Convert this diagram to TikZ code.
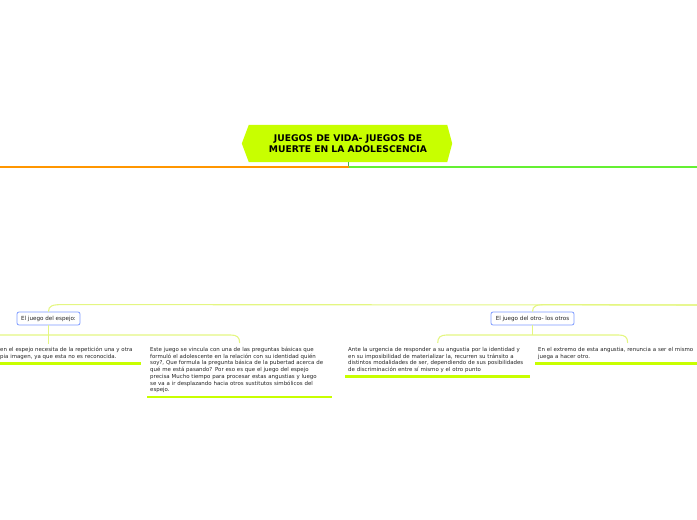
\documentclass[tikz,border=0pt]{standalone}
\usepackage{fontspec}
\setmainfont{DejaVu Sans}
\usetikzlibrary{backgrounds}
\definecolor{titlelime}{RGB}{200,255,0}
\definecolor{branchcol}{RGB}{228,246,130}
\definecolor{boxblue}{RGB}{125,155,255}
\definecolor{txtgray}{RGB}{35,35,35}
\definecolor{hubleft}{RGB}{255,150,0}
\definecolor{hubright}{RGB}{100,240,50}

\begin{document}
\begin{tikzpicture}[x=1pt,y=-1pt,
  titlebox/.style={minimum width=198pt,minimum height=37pt,inner sep=0pt,align=center,
    font=\fontsize{9.2}{11.5}\selectfont\bfseries},
  groupbox/.style={draw=boxblue,line width=0.8pt,rounded corners=2pt,fill=white,
    minimum height=13pt,inner sep=0pt,text=txtgray,font=\fontsize{5.6}{6.5}\selectfont},
  leaf/.style={anchor=north west,text width=179pt,inner xsep=3pt,inner ysep=3pt,align=left,
    text=txtgray,font=\fontsize{5.45}{6.7}\selectfont},
  branch/.style={draw=branchcol,line width=1.1pt},
  uline/.style={draw=titlelime,line width=2.8pt}]
\useasboundingbox (0,0) rectangle (697,520);
\clip (0,0) rectangle (697,520);

% central topic
\node[titlebox] (title) at (348,143.5) {JUEGOS DE VIDA- JUEGOS DE\\MUERTE EN LA ADOLESCENCIA};
\begin{scope}[on background layer]
\fill[titlelime] (title.north west) -- (title.north east) -- ([xshift=5pt]title.east)
  -- (title.south east) -- (title.south west) -- ([xshift=-7pt]title.west) -- cycle;
\end{scope}
\coordinate (hub) at (348.5,167);
\coordinate (westend) at (0,167);
\coordinate (eastend) at (697,167);
\draw[gray!60!green,line width=0.9pt] (title.south -| hub) -- (hub);
\draw[hubleft,line width=1.2pt] (hub) -- (westend);
\draw[hubright,line width=1.2pt] (hub) -- (eastend);

% second level
\node[groupbox,minimum width=63pt] (espejo) at (48.5,318.5) {El juego del espejo:};
\node[groupbox,minimum width=83pt] (otro) at (532.5,318.5) {El juego del otro- los otros};
\coordinate (topend) at (697,305);
\draw[branch] (espejo.north) .. controls +(0,-6) and +(-10,0) .. ++(14,-7) -- (topend);
\draw[branch] (otro.north) .. controls +(0,-6) and +(-10,0) .. ++(14,-7) -- (topend);

% leaves
\node[leaf,text width=138pt] (l1) at (-3,344) {en el espejo necesita de la repetición una y otra\\
pia imagen, ya que esta no es reconocida.};
\node[leaf] (l2) at (147,344) {Este juego se vincula con una de las preguntas básicas que\\
formuló el adolescente en la relación con su identidad quién\\
soy?, Que formula la pregunta básica de la pubertad acerca de\\
qué me está pasando? Por eso es que el juego del espejo\\
precisa Mucho tiempo para procesar estas angustias y luego\\
se va a ir desplazando hacia otros sustitutos simbólicos del\\
espejo.};
\node[leaf] (r1) at (345,344) {Ante la urgencia de responder a su angustia por la identidad y\\
en su imposibilidad de materializar la, recurren su tránsito a\\
distintos modalidades de ser, dependiendo de sus posibilidades\\
de discriminación entre sí mismo y el otro punto};
\node[leaf] (r2) at (535,344) {En el extremo de esta angustia, renuncia a ser el mismo\\
juega a hacer otro.};

\coordinate (fork) at (0,335);
\draw[branch] (espejo.south) -- (espejo.south |- l1.north);
\draw[branch] (fork) -- ([xshift=-9pt,yshift=9pt]l2.north) .. controls +(6,0) and +(0,-6) .. ([yshift=1pt]l2.north);
\draw[branch] (otro.south) -- ++(0,10);
\draw[branch] ([yshift=1pt]r1.north) .. controls +(0,-6) and +(-6,0) .. ++(9,-8)
  -- ([xshift=-9pt,yshift=9pt]r2.north) .. controls +(6,0) and +(0,-6) .. ([yshift=1pt]r2.north);

\foreach \n in {l1,l2,r1,r2}
  \draw[uline] ([yshift=-1pt]\n.south west) -- ([yshift=-1pt]\n.south east);
\end{tikzpicture}
\end{document}
